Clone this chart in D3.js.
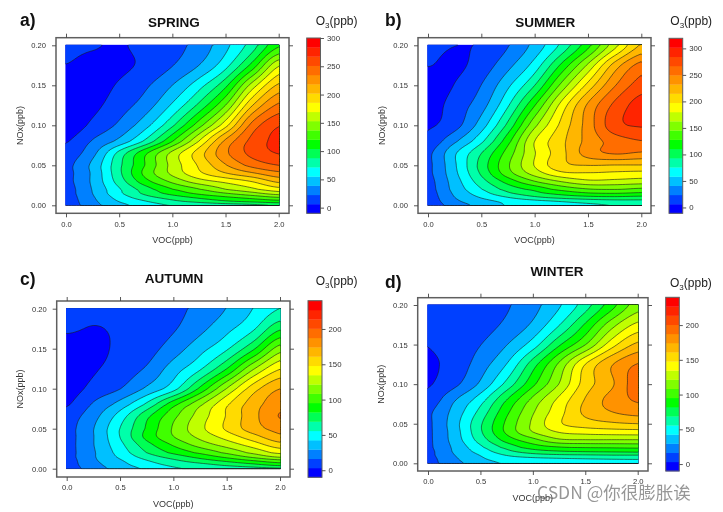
<!DOCTYPE html>
<html><head><meta charset="utf-8">
<script src="https://cdn.jsdelivr.net/npm/d3@7"></script>
<style>html,body{margin:0;padding:0;background:#fff}svg{display:block;filter:blur(.35px)}text{font-family:"Liberation Sans",Arial,sans-serif}</style>
</head><body><svg id="c" width="723" height="512"></svg>
<script>
// ---------- data ----------
const voc = [0, .25, .5, .75, 1, 1.25, 1.5, 1.75, 2];
const nox = [.2, .175, .15, .125, .1, .08, .065, .05, .04, .03, .02, .015, .01, .005, 0];
const springO3 = [
[9,7.5,5,11,17,29,51,80,118],
[6,2,3,10,22,39,66,110,167],
[-2,0,8,20,39,65,100,160,205],
[-6,2,15,31,58,92,137,201,238],
[-5,10,26,50,85,130,180,240,266],
[5,24,44,76,120,170,222,256,272],
[13,34,77,118,158,194,231,256,268],
[18,43,84,122,159,188,217,240,251],
[18,42,84,126,157,182,201,216,230],
[18,42,79,115,141,162,174,187,206],
[16,40,70,97,120,136,153,166,180],
[16,39,68,92,110,124,136,148,161],
[15,37,62,82,96,108,118,127,137],
[14,35,56,71,84,93,102,108,114],
[13,33,50,63,73,76,80,84,90]];
const summerO3 = [
[10,6.5,8,23,47,80,123,174,217],
[7,3,14,36,66,114,166,222,256],
[-4,7,24,55,93,150,203,248,275],
[-2,14,34,74,127,186,235,271,292],
[4,17,50,98,158,202,240,278,286],
[12,38,72,122,180,210,238,257,266],
[20,56,93,136,179,209,240,251,247],
[20,56,100,143,181,210,215,214,214],
[20,54,96,138,170,193,196,194,192],
[18,50,86,118,145,164,176,175,172],
[17,47,75,100,116,134,144,146,142],
[16,44,68,90,105,117,126,128,125],
[15,41,60,76,90,99,105,107,105],
[14,37,52,63,71,77,83,87,88],
[13,32,47,60,66,69,72,77,80]];
const autumnO3 = [
[9,6.5,7.5,10,13,20,30,43,56],
[5,2.5,5,8,15,26,39,54,80],
[-3,-1,6,11,23,38,54,80,115],
[-5,1.5,9,18,36,54,82,120,147],
[-3,7,16,32,51,85,122,155,174],
[2,18,35,59,91,119,146,168,183],
[10,25,49,79,105,128,149,170,188],
[12,29,56,84,110,131,150,168,179],
[12,29,56,86,108,125,140,156,171],
[12,29,52,77,97,114,127,141,156],
[12,28,48,69,85,98,111,125,138],
[12,28,45,62,75,87,99,112,124],
[11,27,41,55,66,76,85,95,104],
[11,25,38,50,59,65,72,79,87],
[10,23,35,45,54,58,61,64,67]];
const winterO3 = [
[8,8,10,15,25,41,63,90,115],
[6,7,11,19,32,55,84,116,138],
[3.5,8.5,16,29,49,80,108,142,164],
[1,8,23,43,76,111,148,173,188],
[2,13,32,60,92,122,154,172,195],
[8,28,50,82,112,138,162,179,189],
[14,34,60,92,120,143,164,174,180],
[14,37,67,98,124,146,155,159,161],
[14,36,67,98,122,136,140,142,143],
[14,35,62,88,105,120,122,122,122],
[14,32,53,73,88,94,96,97,98],
[13,31,48,65,76,81,83,84,85],
[13,29,43,56,63,66,67,68,68],
[12,27,40,48,51,53,54.5,55.5,56],
[12,25,37,44,46,48,50,51,50]];
const vocTicks = [0, .5, 1, 1.5, 2];
const noxTicks = [0, .05, .1, .15, .2];
const springBarTicks = [0, 50, 100, 150, 200, 250, 300];
const summerBarTicks = [0, 50, 100, 150, 200, 250, 300];
const autumnBarTicks = [0, 50, 100, 150, 200];
const winterBarTicks = [0, 50, 100, 150, 200];
const bandColors = ["#0000ff","#0040ff","#0080ff","#00c0ff","#00ffff","#00ffaa","#00ff55","#00ff00","#40ff00","#80ff00","#c0ff00","#ffff00","#ffdb00","#ffb600","#ff9200","#ff6d00","#ff4900","#ff2400","#ff0000"];

// ---------- layout ----------
const panels = [
 {tag:"a)",title:"SPRING",grid:springO3,ticks:springBarTicks,lo:-10,hi:300,
  frame:[56,37.7,289,213.3],plot:[66,45.3,278.7,205.3],bar:[306.7,38,320.5,213.3],
  tagPos:[20,26],titlePos:[174,27],o3Pos:[315.7,25]},
 {tag:"b)",title:"SUMMER",grid:summerO3,ticks:summerBarTicks,lo:-11,hi:319,
  frame:[418,37.7,651,213.3],plot:[428,45.3,641.3,205.3],bar:[669,38.3,682.7,213.3],
  tagPos:[385,26],titlePos:[545.3,27],o3Pos:[670.3,25]},
 {tag:"c)",title:"AUTUMN",grid:autumnO3,ticks:autumnBarTicks,lo:-10,hi:240,
  frame:[56.7,301,290,477],plot:[66.7,308.7,280,468.7],bar:[308,300.7,322,477.3],
  tagPos:[20,285],titlePos:[174,283],o3Pos:[315.7,285]},
 {tag:"d)",title:"WINTER",grid:winterO3,ticks:winterBarTicks,lo:-10,hi:240,
  frame:[417.7,297.7,648,471],plot:[428,305,637.7,463.3],bar:[665.7,297.3,679.3,471],
  tagPos:[385,288],titlePos:[557,276],o3Pos:[670,287]}
];
const FACTOR = 10;

function catmull(a,b,c,d,t){
  return .5*(2*b+(c-a)*t+(2*a-5*b+4*c-d)*t*t+(3*b-a-3*c+d)*t*t*t);
}
// Smooth the read-off grid for drawing only (the values are the arrays above).
function smoothGrid(g){
  const R=g.length,C=g[0].length,W=(C-1)*FACTOR+1,H=(R-1)*FACTOR+1,out=new Float64Array(W*H);
  const cl=(v,m)=>Math.max(0,Math.min(m,v));
  for(let j=0;j<H;j++){
    const r=Math.min(Math.floor(j/FACTOR),R-2),v=j/FACTOR-r;
    for(let i=0;i<W;i++){
      const q=Math.min(Math.floor(i/FACTOR),C-2),u=i/FACTOR-q,col=[];
      for(let k=-1;k<=2;k++){
        const row=g[cl(r+k,R-1)];
        col.push(catmull(row[cl(q-1,C-1)],row[q],row[q+1],row[cl(q+2,C-1)],u));
      }
      out[j*W+i]=catmull(col[0],col[1],col[2],col[3],v);
    }
  }
  return {W,H,out};
}

const svg=d3.select("#c");
const GRAY="#5f5f5f";
panels.forEach((p,pi)=>{
  const g=svg.append("g");
  const [fx0,fy0,fx1,fy1]=p.frame,[px0,py0,px1,py1]=p.plot,[bx0,by0,bx1,by1]=p.bar;
  const x=d3.scaleLinear().domain([0,2]).range([px0,px1]);
  const y=d3.scaleLinear().domain([0,.2]).range([py1,py0]);
  const xIdx=d3.scaleLinear().domain(d3.range(voc.length)).range(voc);
  const yIdx=d3.scaleLinear().domain(d3.range(nox.length)).range(nox);
  const step=(p.hi-p.lo)/bandColors.length;
  const levels=bandColors.map((_,k)=>p.lo+step*k);
  const {W,H,out}=smoothGrid(p.grid);
  const contours=d3.contours().size([W,H]).thresholds(levels)(Array.from(out));
  const proj=d3.geoTransform({point(a,b){
    this.stream.point(x(xIdx((a-.5)/FACTOR)),y(yIdx((b-.5)/FACTOR)));
  }});
  const path=d3.geoPath(proj);
  const clipId="clip"+pi;
  g.append("clipPath").attr("id",clipId).append("rect")
    .attr("x",px0-.6).attr("y",py0-.6).attr("width",px1-px0+1.2).attr("height",py1-py0+1.2);
  const m=g.append("g").attr("clip-path",`url(#${clipId})`);
  m.selectAll("path.f").data(contours).join("path").attr("class","f")
    .attr("d",path).attr("fill",(d,i)=>bandColors[i]);
  m.selectAll("path.l").data(contours.slice(1)).join("path").attr("class","l")
    .attr("d",path).attr("fill","none").attr("stroke","#1c1c1c").attr("stroke-width",.75).attr("stroke-opacity",.8);

  // frame
  g.append("rect").attr("x",fx0).attr("y",fy0).attr("width",fx1-fx0).attr("height",fy1-fy0)
    .attr("fill","none").attr("stroke",GRAY).attr("stroke-width",1.5);
  const styleAxis=(s,fs)=>{s.select(".domain").remove();
    s.selectAll(".tick line").attr("stroke","#444").attr("stroke-width",.9);
    s.selectAll("text").attr("fill","#333").attr("font-size",fs).attr("font-family","'Liberation Sans'");};
  const fmtX=d3.format(".1f"),fmtY=d3.format(".2f");
  g.append("g").attr("transform",`translate(0,${fy1})`).call(d3.axisBottom(x).tickValues(vocTicks).tickFormat(fmtX).tickSize(4).tickPadding(4)).call(styleAxis,7.6);
  g.append("g").attr("transform",`translate(0,${fy0})`).call(d3.axisTop(x).tickValues(vocTicks).tickFormat("").tickSize(4)).call(styleAxis,7.6);
  g.append("g").attr("transform",`translate(${fx0},0)`).call(d3.axisLeft(y).tickValues(noxTicks).tickFormat(fmtY).tickSize(4).tickPadding(6)).call(styleAxis,7.6);
  g.append("g").attr("transform",`translate(${fx1},0)`).call(d3.axisRight(y).tickValues(noxTicks).tickFormat("").tickSize(4)).call(styleAxis,7.6);

  g.append("text").attr("x",(fx0+fx1)/2).attr("y",fy1+30).attr("text-anchor","middle")
    .attr("font-size",9).attr("fill","#333").text("VOC(ppb)");
  g.append("text").attr("transform",`translate(${fx0-33.5},${(fy0+fy1)/2}) rotate(-90)`).attr("text-anchor","middle")
    .attr("font-size",9).attr("fill","#333").text("NOx(ppb)");
  g.append("text").attr("x",p.tagPos[0]).attr("y",p.tagPos[1]).attr("font-size",17.5).attr("font-weight","bold").attr("fill","#111").text(p.tag);
  g.append("text").attr("x",p.titlePos[0]).attr("y",p.titlePos[1]).attr("text-anchor","middle").attr("font-size",13.5).attr("font-weight","bold").attr("fill","#111").text(p.title);
  const o3=g.append("text").attr("x",p.o3Pos[0]).attr("y",p.o3Pos[1]).attr("font-size",12).attr("fill","#222");
  o3.append("tspan").text("O");
  o3.append("tspan").attr("font-size",8).attr("dy",3).text("3");
  o3.append("tspan").attr("dy",-3).text("(ppb)");

  // colour bar
  const b=d3.scaleLinear().domain([p.lo,p.hi]).range([by1,by0]);
  g.append("g").selectAll("rect").data(levels).join("rect")
    .attr("x",bx0).attr("width",bx1-bx0)
    .attr("y",d=>b(d+step)).attr("height",d=>b(d)-b(d+step)+.3)
    .attr("fill",(d,i)=>bandColors[i]);
  g.append("rect").attr("x",bx0).attr("y",by0).attr("width",bx1-bx0).attr("height",by1-by0)
    .attr("fill","none").attr("stroke",GRAY).attr("stroke-width",1);
  g.append("g").attr("transform",`translate(${bx1},0)`)
    .call(d3.axisRight(b).tickValues(p.ticks).tickSize(3.5).tickPadding(3)).call(styleAxis,7.8);
});

svg.append("text").attr("x",537).attr("y",499).attr("font-size",17.5)
  .attr("font-family","'Noto Sans CJK SC','Noto Sans'").style("font-family","'Noto Sans CJK SC','Noto Sans'")
  .attr("fill","#555").attr("fill-opacity",.62).text("CSDN @你很膨胀诶");
</script></body></html>
